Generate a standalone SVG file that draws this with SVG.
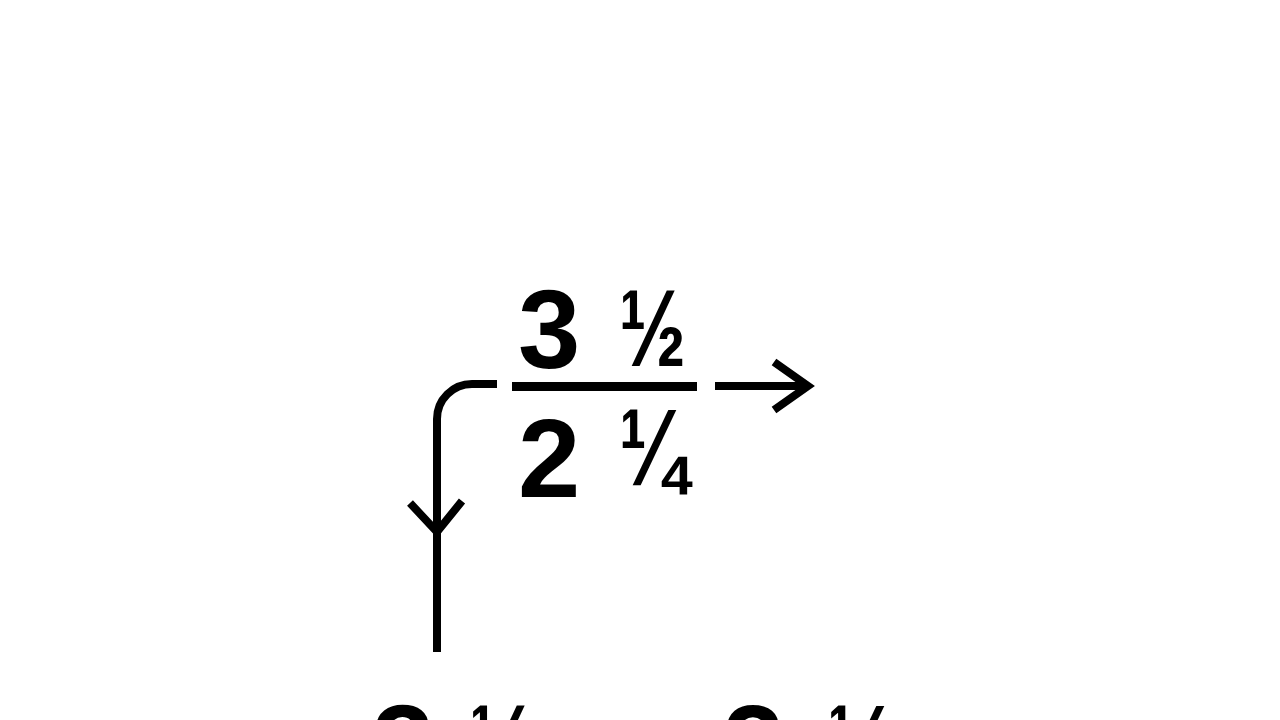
<svg xmlns="http://www.w3.org/2000/svg" width="1280" height="720" viewBox="0 0 1280 720">
<style>
.num{font-family:"Liberation Sans","Arial",sans-serif;font-weight:bold;font-size:112px;fill:#000}
.fr{font-family:"Liberation Sans","Arial",sans-serif;font-weight:bold;font-size:110px;fill:#000}
.ln{fill:none;stroke:#000;stroke-width:8;stroke-linecap:butt;stroke-linejoin:miter}
</style>
<rect width="1280" height="720" fill="#fff"/>
<g id="top-fraction">
<text class="num" x="518" y="368">3</text>
<text class="fr" x="619" y="366" textLength="67" lengthAdjust="spacingAndGlyphs">½</text>
<rect x="512" y="382" width="185" height="9" fill="#000"/>
<text class="num" x="518" y="497">2</text>
<text class="fr" x="619" y="485" textLength="68" lengthAdjust="spacingAndGlyphs">¼</text>
</g>
<g id="bottom-left">
<text class="num" x="372" y="783">3</text>
<text class="fr" x="469" y="781" textLength="67" lengthAdjust="spacingAndGlyphs">½</text>
</g>
<g id="bottom-right">
<text class="num" x="722" y="783">2</text>
<text class="fr" x="827" y="781" textLength="68" lengthAdjust="spacingAndGlyphs">¼</text>
</g>
<g id="connectors">
<path class="ln" d="M715 386 H808"/>
<path class="ln" d="M774 362 L808 386 L774 410" stroke-width="9"/>
<path class="ln" d="M497 384 H472 A35 35 0 0 0 437 419 V652"/>
<path class="ln" d="M410 503 L437 532 L462 501" stroke-width="9"/>
</g>
</svg>
